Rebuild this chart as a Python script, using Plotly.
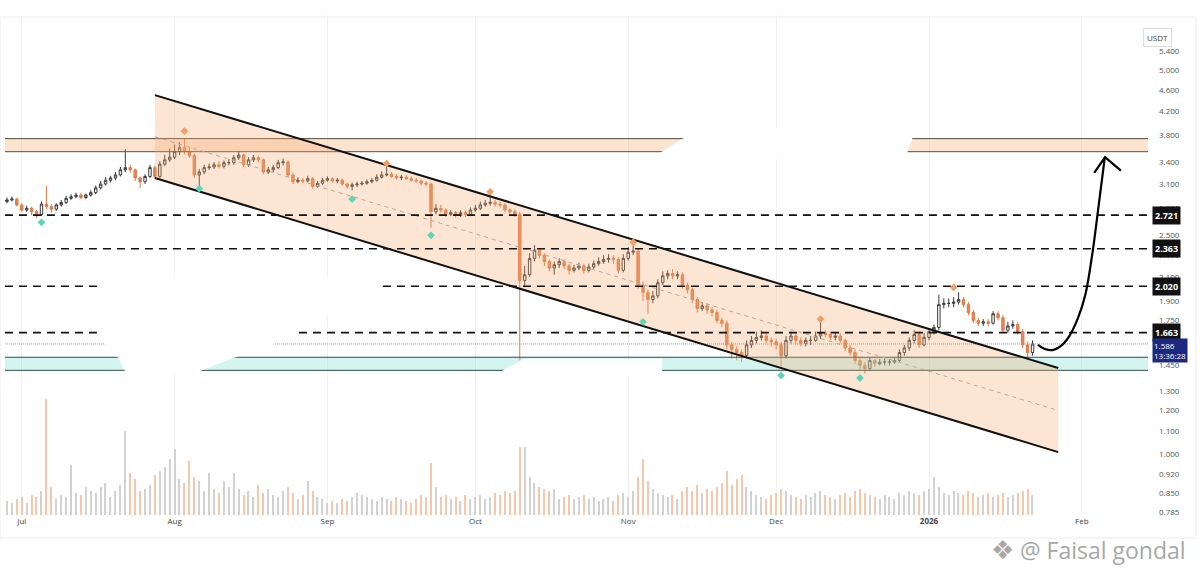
import math
import pandas as pd
import plotly.graph_objects as go

# daily candles, 28 Jun 2025 -> 22 Jan 2026 (USDT)
closes = [2.90, 2.91, 2.84, 2.78, 2.80, 2.76, 2.73, 2.85, 2.82, 2.79,
          2.84, 2.87, 2.92, 2.94, 2.96, 2.93, 2.96, 2.99, 3.05, 3.10,
          3.15, 3.18, 3.22, 3.29, 3.32, 3.29, 3.18, 3.13, 3.20, 3.32,
          3.20, 3.37, 3.43, 3.47, 3.55, 3.61, 3.55, 3.49, 3.22, 3.26,
          3.32, 3.33, 3.36, 3.34, 3.39, 3.39, 3.46, 3.50, 3.36, 3.43,
          3.46, 3.43, 3.26, 3.29, 3.32, 3.39, 3.40, 3.22, 3.13, 3.15,
          3.14, 3.17, 3.07, 3.11, 3.15, 3.17, 3.14, 3.15, 3.10, 3.07,
          3.09, 3.10, 3.11, 3.13, 3.15, 3.19, 3.22, 3.23, 3.20, 3.18,
          3.19, 3.17, 3.15, 3.14, 3.11, 3.10, 2.76, 2.80, 2.78, 2.73,
          2.75, 2.72, 2.75, 2.73, 2.78, 2.80, 2.84, 2.86, 2.87, 2.85,
          2.84, 2.78, 2.76, 2.73, 2.07, 2.12, 2.27, 2.35, 2.30, 2.24,
          2.18, 2.21, 2.24, 2.20, 2.16, 2.18, 2.20, 2.16, 2.19, 2.22,
          2.24, 2.26, 2.27, 2.26, 2.16, 2.27, 2.33, 2.34, 2.03, 1.97,
          1.91, 1.94, 2.05, 2.11, 2.13, 2.11, 2.12, 2.03, 1.99, 1.91,
          1.84, 1.86, 1.83, 1.81, 1.75, 1.73, 1.58, 1.55, 1.53, 1.51,
          1.58, 1.61, 1.63, 1.64, 1.61, 1.60, 1.58, 1.51, 1.61, 1.64,
          1.61, 1.59, 1.61, 1.61, 1.64, 1.66, 1.65, 1.63, 1.64, 1.61,
          1.56, 1.53, 1.48, 1.45, 1.43, 1.48, 1.46, 1.47, 1.47, 1.47,
          1.48, 1.53, 1.56, 1.61, 1.65, 1.58, 1.63, 1.67, 1.70, 1.87,
          1.88, 1.88, 1.89, 1.91, 1.87, 1.81, 1.75, 1.73, 1.74, 1.73,
          1.80, 1.77, 1.68, 1.71, 1.72, 1.67, 1.58, 1.53, 1.586]
highs = [2.93, 2.94, 2.93, 2.86, 2.83, 2.82, 2.78, 2.88, 3.08, 2.85,
         2.86, 2.90, 2.95, 2.97, 2.99, 2.99, 2.98, 3.02, 3.08, 3.14,
         3.19, 3.21, 3.26, 3.33, 3.59, 3.36, 3.31, 3.20, 3.23, 3.36,
         3.35, 3.41, 3.50, 3.60, 3.66, 3.70, 3.76, 3.62, 3.52, 3.30,
         3.36, 3.38, 3.40, 3.41, 3.42, 3.44, 3.50, 3.56, 3.52, 3.47,
         3.50, 3.49, 3.45, 3.33, 3.36, 3.43, 3.45, 3.42, 3.25, 3.19,
         3.18, 3.21, 3.19, 3.14, 3.18, 3.20, 3.19, 3.18, 3.17, 3.12,
         3.12, 3.13, 3.14, 3.16, 3.18, 3.23, 3.27, 3.34, 3.26, 3.23,
         3.22, 3.22, 3.20, 3.18, 3.16, 3.14, 3.12, 2.85, 2.84, 2.80,
         2.78, 2.77, 2.78, 2.77, 2.81, 2.84, 2.88, 2.90, 2.97, 2.90,
         2.88, 2.86, 2.80, 2.79, 2.76, 2.20, 2.32, 2.40, 2.37, 2.32,
         2.26, 2.24, 2.27, 2.26, 2.22, 2.21, 2.23, 2.22, 2.22, 2.25,
         2.28, 2.30, 2.31, 2.30, 2.28, 2.31, 2.38, 2.40, 2.36, 2.06,
         1.99, 1.98, 2.08, 2.15, 2.16, 2.17, 2.15, 2.14, 2.05, 2.01,
         1.93, 1.89, 1.88, 1.85, 1.83, 1.77, 1.75, 1.60, 1.57, 1.55,
         1.61, 1.64, 1.67, 1.68, 1.66, 1.63, 1.62, 1.60, 1.64, 1.67,
         1.66, 1.63, 1.63, 1.64, 1.67, 1.74, 1.68, 1.67, 1.66, 1.66,
         1.62, 1.58, 1.55, 1.50, 1.47, 1.50, 1.49, 1.49, 1.49, 1.49,
         1.50, 1.55, 1.58, 1.63, 1.68, 1.67, 1.66, 1.69, 1.72, 1.95,
         1.92, 1.92, 1.93, 1.97, 1.93, 1.89, 1.83, 1.77, 1.76, 1.76,
         1.82, 1.82, 1.79, 1.74, 1.75, 1.74, 1.69, 1.60, 1.61]
lows = [2.86, 2.88, 2.82, 2.76, 2.76, 2.72, 2.69, 2.71, 2.79, 2.75,
        2.77, 2.82, 2.85, 2.90, 2.92, 2.91, 2.91, 2.94, 2.97, 3.03,
        3.08, 3.12, 3.15, 3.20, 3.26, 3.25, 3.14, 3.05, 3.10, 3.18,
        3.17, 3.18, 3.34, 3.40, 3.44, 3.50, 3.51, 3.46, 3.18, 3.07,
        3.23, 3.29, 3.30, 3.31, 3.31, 3.35, 3.36, 3.43, 3.33, 3.33,
        3.40, 3.40, 3.23, 3.23, 3.26, 3.30, 3.35, 3.19, 3.10, 3.11,
        3.11, 3.12, 3.04, 3.05, 3.09, 3.13, 3.12, 3.11, 3.08, 3.04,
        3.02, 3.06, 3.08, 3.09, 3.11, 3.13, 3.17, 3.20, 3.18, 3.16,
        3.15, 3.15, 3.13, 3.12, 3.08, 3.07, 2.58, 2.73, 2.75, 2.70,
        2.71, 2.69, 2.70, 2.70, 2.71, 2.76, 2.78, 2.82, 2.83, 2.82,
        2.81, 2.76, 2.73, 2.70, 1.48, 2.02, 2.10, 2.24, 2.27, 2.20,
        2.15, 2.12, 2.18, 2.17, 2.12, 2.14, 2.16, 2.13, 2.14, 2.17,
        2.20, 2.22, 2.23, 2.22, 2.13, 2.14, 2.25, 2.30, 2.00, 1.90,
        1.80, 1.88, 1.92, 2.03, 2.08, 2.08, 2.08, 2.00, 1.96, 1.88,
        1.81, 1.82, 1.80, 1.78, 1.73, 1.70, 1.55, 1.49, 1.48, 1.47,
        1.49, 1.56, 1.59, 1.61, 1.59, 1.57, 1.55, 1.44, 1.49, 1.59,
        1.59, 1.57, 1.57, 1.58, 1.60, 1.62, 1.63, 1.61, 1.61, 1.59,
        1.54, 1.51, 1.46, 1.42, 1.40, 1.42, 1.44, 1.45, 1.45, 1.45,
        1.46, 1.47, 1.51, 1.54, 1.59, 1.56, 1.57, 1.61, 1.65, 1.68,
        1.84, 1.85, 1.85, 1.87, 1.85, 1.79, 1.73, 1.71, 1.71, 1.71,
        1.72, 1.75, 1.66, 1.66, 1.69, 1.65, 1.56, 1.50, 1.51]
volumes = [7, 6, 8, 9, 6, 10, 9, 12, 58, 14,
           8, 10, 9, 25, 11, 10, 14, 12, 11, 14,
           16, 9, 12, 15, 42, 21, 18, 12, 13, 15,
           20, 22, 24, 28, 33, 18, 16, 27, 19, 17,
           12, 21, 13, 11, 17, 14, 21, 13, 10, 12,
           9, 15, 11, 13, 10, 9, 12, 14, 11, 8,
           10, 17, 12, 9, 8, 6, 7, 6, 8, 7,
           9, 11, 10, 9, 8, 7, 9, 8, 7, 9,
           8, 7, 6, 8, 10, 9, 26, 14, 9, 10,
           8, 9, 7, 10, 8, 9, 10, 8, 9, 11,
           10, 12, 11, 12, 34, 34, 19, 16, 14, 13,
           12, 13, 8, 9, 10, 8, 9, 10, 8, 9,
           7, 8, 9, 7, 10, 11, 9, 12, 19, 28,
           17, 13, 11, 10, 9, 10, 8, 12, 14, 12,
           15, 11, 13, 12, 14, 16, 22, 15, 18, 20,
           14, 12, 10, 9, 8, 10, 11, 13, 12, 10,
           9, 8, 10, 9, 11, 12, 10, 9, 8, 10,
           11, 9, 12, 13, 11, 10, 9, 8, 10, 9,
           8, 11, 10, 12, 11, 10, 12, 13, 19, 14,
           11, 10, 12, 11, 10, 12, 11, 9, 10, 11,
           9, 10, 11, 9, 10, 11, 12, 13, 10]
opens = [2.88] + closes[:-1]  # each daily candle opens at the prior close
dates = pd.date_range("2025-06-28", periods=len(closes), freq="D")

# drawings
level_prices = [2.721, 2.363, 2.020, 1.663]
last_price = 1.586
resistance_zone = [3.55, 3.75]
support_zone = [1.42, 1.50]
channel_dates = ["2025-07-28", "2026-01-27 05:00"]
channel_upper = [4.50, 1.434]
channel_lower = [3.18, 1.008]
channel_mid = [3.78, 1.20]
pivot_high_dates = ["2025-08-03", "2025-09-13", "2025-10-04", "2025-11-02", "2025-12-10", "2026-01-06"]
pivot_high_prices = [3.87, 3.38, 3.00, 2.43, 1.76, 2.01]
pivot_low_dates = ["2025-07-05", "2025-08-06", "2025-09-06", "2025-09-22", "2025-11-04", "2025-12-02", "2025-12-18"]
pivot_low_prices = [2.64, 3.04, 2.91, 2.50, 1.74, 1.39, 1.375]
arrow_dates = ["2026-01-23 02:00", "2026-01-24 12:00", "2026-01-26 02:00", "2026-01-28", "2026-01-29 14:00",
               "2026-01-31 05:00", "2026-02-01 17:00", "2026-02-03 02:00", "2026-02-04 07:00", "2026-02-05 15:00"]
arrow_prices = [1.58, 1.553, 1.546, 1.58, 1.646, 1.767, 1.95, 2.30, 2.78, 3.45]
arrowhead_dates = ["2026-02-03 12:00", "2026-02-05 17:00", "2026-02-08 22:00"]
arrowhead_prices = [3.25, 3.47, 3.28]

month_ticks = ["2025-07-01", "2025-08-01", "2025-09-01", "2025-10-01", "2025-11-01", "2025-12-01", "2026-01-01", "2026-02-01"]
month_labels = ["Jul", "Aug", "Sep", "Oct", "Nov", "Dec", "<b>2026</b>", "Feb"]
price_ticks = [5.4, 5.0, 4.6, 4.2, 3.8, 3.4, 3.1, 2.8, 2.5, 2.3, 2.1, 1.9, 1.75, 1.45, 1.3, 1.2, 1.1, 1.0, 0.92, 0.85, 0.785]

X_START, X_END = "2025-06-26 23:45", "2026-02-14 10:00"
LINE_START = "2025-06-27 14:00"
Y_RANGE = [-0.111, 0.799]


def px(x):  # screen pixel -> paper
    return (x - 2) / 1146


def py(y):
    return (515 - y) / 500


fig = go.Figure()

# zones
for zone, fill, edge in [(resistance_zone, "rgba(246,168,110,0.32)", "#5b4a3e"),
                         (support_zone, "rgba(120,222,205,0.32)", "#2f4f4a")]:
    fig.add_trace(go.Scatter(x=[LINE_START, X_END, X_END, LINE_START], y=[zone[0], zone[0], zone[1], zone[1]],
                             fill="toself", fillcolor=fill, mode="none", hoverinfo="skip"))
    for z in zone:
        fig.add_trace(go.Scatter(x=[LINE_START, X_END], y=[z, z], mode="lines",
                                 line=dict(color=edge, width=1), hoverinfo="skip"))

# channel
fig.add_trace(go.Scatter(x=channel_dates + channel_dates[::-1],
                         y=channel_upper + channel_lower[::-1],
                         fill="toself", fillcolor="rgba(246,168,110,0.3)", mode="none", hoverinfo="skip"))
fig.add_trace(go.Scatter(x=channel_dates, y=channel_mid, mode="lines",
                         line=dict(color="#b9a89a", width=1, dash="4px,4px"), hoverinfo="skip"))

# levels
for lv in level_prices:
    fig.add_trace(go.Scatter(x=[LINE_START, X_END], y=[lv, lv], mode="lines",
                             line=dict(color="#111111", width=1.6, dash="8px,6px"), hoverinfo="skip"))
fig.add_trace(go.Scatter(x=[LINE_START, X_END], y=[last_price, last_price], mode="lines",
                         line=dict(color="#9a9a9a", width=1, dash="1px,1px"), hoverinfo="skip"))

# volume
vol_colors = ["#d2d2d2" if c >= o else "#f5c8ac" for o, c in zip(opens, closes)]
fig.add_trace(go.Bar(x=dates, y=volumes, yaxis="y2", marker=dict(color=vol_colors, line_width=0),
                     width=86400000 * 0.25, hoverinfo="skip"))

# candles
fig.add_trace(go.Candlestick(
    x=dates, open=opens, high=highs, low=lows, close=closes,
    increasing=dict(line=dict(color="#3a3a3a", width=1), fillcolor="#ffffff"),
    decreasing=dict(line=dict(color="#e07845", width=1), fillcolor="#e8875a"),
    whiskerwidth=0))

# channel borders on top of candles
for side in (channel_upper, channel_lower):
    fig.add_trace(go.Scatter(x=channel_dates, y=side, mode="lines",
                             line=dict(color="#111111", width=2), hoverinfo="skip"))

# pivots
fig.add_trace(go.Scatter(x=pivot_high_dates, y=pivot_high_prices, mode="markers",
                         marker=dict(symbol="diamond", size=6, color="#f0a066")))
fig.add_trace(go.Scatter(x=pivot_low_dates, y=pivot_low_prices, mode="markers",
                         marker=dict(symbol="diamond", size=6, color="#5fd3b6")))

# projection arrow
fig.add_trace(go.Scatter(x=arrow_dates, y=arrow_prices, mode="lines",
                         line=dict(color="#000000", width=2.2, shape="spline"), hoverinfo="skip"))
fig.add_trace(go.Scatter(x=arrowhead_dates, y=arrowhead_prices, mode="lines",
                         line=dict(color="#000000", width=2.2), hoverinfo="skip"))

# erased patches in the source screenshot
blobs = [
    [(700, 128), (916, 128), (905, 159), (650, 159)],
    [(102, 278), (395, 278), (300, 330), (272, 345), (235, 357.5), (195, 373), (126, 373), (118, 357.5), (112, 352), (102, 340)],
    [(524, 358.8), (662, 358.8), (662, 376), (493, 376)],
]
shapes = []
for b in blobs:
    path = "M " + " L ".join(f"{px(x):.5f},{py(y):.5f}" for x, y in b) + " Z"
    shapes.append(dict(type="path", xref="paper", yref="paper", path=path,
                       fillcolor="white", line=dict(width=0), layer="above"))
shapes.append(dict(type="rect", xref="paper", yref="paper", x0=px(0), x1=px(1196), y0=py(538), y1=py(17),
                   line=dict(color="#ececec", width=1), layer="below"))

annotations = []
for lv in level_prices:
    annotations.append(dict(x=1, xref="paper", y=math.log10(lv), yref="y", xanchor="left", xshift=4,
                            text=f"<b>{lv:.3f}</b>", showarrow=False, bgcolor="#111111",
                            font=dict(color="white", size=9), borderpad=2))
annotations.append(dict(x=1, xref="paper", y=math.log10(last_price), yref="y", xanchor="left", xshift=4,
                        yanchor="top", yshift=6, text=f"{last_price:.3f}<br>13:36:28", showarrow=False,
                        bgcolor="#1b2a80", font=dict(color="white", size=8), borderpad=1, align="left"))
annotations.append(dict(x=1, xref="paper", xshift=24, y=py(28), yref="paper", text="USDT", showarrow=False,
                        font=dict(color="#444", size=8), bordercolor="#dddddd", borderwidth=1, borderpad=3))
annotations.append(dict(x=px(1188), xref="paper", y=py(549), yref="paper", xanchor="right", yanchor="middle",
                        text="<span style='font-size:26px'>❖</span> @ Faisal gondal", showarrow=False,
                        font=dict(color="#a8a8a8", size=23, family="Open Sans")))

fig.update_layout(
    width=1200, height=572,
    margin=dict(l=2, r=52, t=15, b=57),
    paper_bgcolor="white", plot_bgcolor="white",
    showlegend=False,
    font=dict(family="Open Sans", color="#444"),
    xaxis=dict(type="date", range=[X_START, X_END], tickvals=month_ticks, ticktext=month_labels,
               showgrid=True, gridcolor="#f1f1f1", gridwidth=1, zeroline=False, showline=False,
               tickfont=dict(size=8, color="#444"), rangeslider=dict(visible=False), ticks=""),
    yaxis=dict(type="log", side="right", range=Y_RANGE, tickvals=price_ticks,
               ticktext=[f"{v:.3f}" for v in price_ticks], showgrid=False, zeroline=False,
               showline=False, ticks="", ticklabelstandoff=10, tickfont=dict(size=8, color="#555")),
    yaxis2=dict(overlaying="y", range=[0, 250], visible=False, showgrid=False),
    shapes=shapes,
    annotations=annotations,
)

# drop the page's default body margin so the figure sits at the window's corner
fig.write_html("out.html", config={"displayModeBar": False},
               post_script="document.body.style.margin='0';")
